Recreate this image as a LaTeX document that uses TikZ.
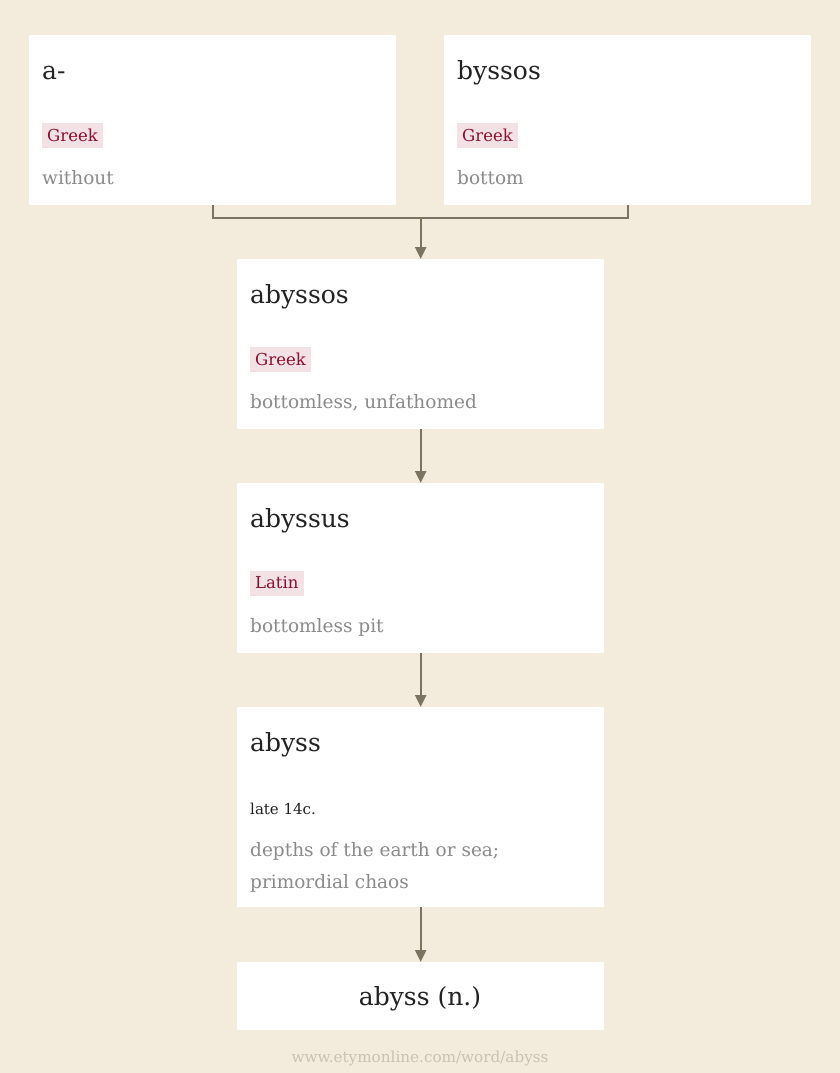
\documentclass[tikz,border=0pt]{standalone}
\usepackage{fontspec}
\setmainfont{DejaVu Serif}
\usetikzlibrary{arrows.meta, positioning}
\definecolor{paper}{HTML}{F3ECDC}
\definecolor{ink}{HTML}{222222}
\definecolor{tagbg}{HTML}{F2E2E6}
\definecolor{tagred}{HTML}{8A0F2E}
\definecolor{glossgray}{HTML}{8A8A8A}
\definecolor{linkcol}{HTML}{7B7462}
\definecolor{footgray}{HTML}{C9C2B3}

\begin{document}
\begin{tikzpicture}[x=1pt, y=-1pt, >={Triangle[length=12pt, width=11pt]},
    card/.style={fill=white, inner sep=0pt, minimum width=367pt, anchor=north west},
    word/.style={anchor=base west, inner sep=0pt, text=ink, font=\fontsize{25}{30}\selectfont},
    lang/.style={anchor=west, fill=tagbg, text=tagred, inner xsep=5pt, inner ysep=0pt,
      minimum height=25pt, font=\fontsize{16.5}{20}\selectfont},
    gloss/.style={anchor=base west, inner sep=0pt, text=glossgray, align=left,
      font=\fontsize{18.5}{32}\selectfont},
    link/.style={draw=linkcol, line width=2.3pt}]

    % --- Background ---
    \fill[paper] (0,0) rectangle (840,1073);

    % --- Cards ---
    \node[card, minimum height=170pt] (a) at (29,35) {};
    \node[card, minimum height=170pt] (byssos) at (444,35) {};
    \node[card, minimum height=170pt] (abyssos) at (237,259) {};
    \node[card, minimum height=170pt] (abyssus) at (237,483) {};
    \node[card, minimum height=200pt] (abyss) at (237,707) {};
    \node[card, minimum height=68pt] (abyssn) at (237,962) {};

    % --- a- ---
    \node[word] (a-word) at (42,79) {a-};
    \node[lang] (a-lang) at (42,135) {Greek};
    \node[gloss] (a-gloss) at (42,184) {without};

    % --- byssos ---
    \node[word] (byssos-word) at (457,79) {byssos};
    \node[lang] (byssos-lang) at (457,135) {Greek};
    \node[gloss] (byssos-gloss) at (457,184) {bottom};

    % --- abyssos ---
    \node[word] (abyssos-word) at (250,303) {abyssos};
    \node[lang] (abyssos-lang) at (250,359) {Greek};
    \node[gloss] (abyssos-gloss) at (250,408) {bottomless, unfathomed};

    % --- abyssus ---
    \node[word] (abyssus-word) at (250,527) {abyssus};
    \node[lang] (abyssus-lang) at (250,583) {Latin};
    \node[gloss] (abyssus-gloss) at (250,632) {bottomless pit};

    % --- abyss ---
    \node[word] (abyss-word) at (250,751) {abyss};
    \node[anchor=base west, inner sep=0pt, text=ink, font=\fontsize{15}{18}\selectfont]
      (abyss-date) at (250,814) {late 14c.};
    \node[gloss] (abyss-gloss) at (250,888) {depths of the earth or sea;\\primordial chaos};

    % --- abyss (n.) ---
    \node[word, anchor=base] (abyssn-word) at (420,1005) {abyss (n.)};

    % --- Links ---
    \coordinate (join) at (abyssos.north |- 0,218);
    \draw[link] (a.south) |- (join) -| (byssos.south);
    \draw[link, ->] (join) -- (abyssos.north);
    \draw[link, ->] (abyssos.south) -- (abyssus.north);
    \draw[link, ->] (abyssus.south) -- (abyss.north);
    \draw[link, ->] (abyss.south) -- (abyssn.north);

    % --- Footer ---
    \node[anchor=base, text=footgray, font=\fontsize{15.2}{18}\selectfont]
      (source) at (420,1062) {www.etymonline.com/word/abyss};
\end{tikzpicture}
\end{document}
